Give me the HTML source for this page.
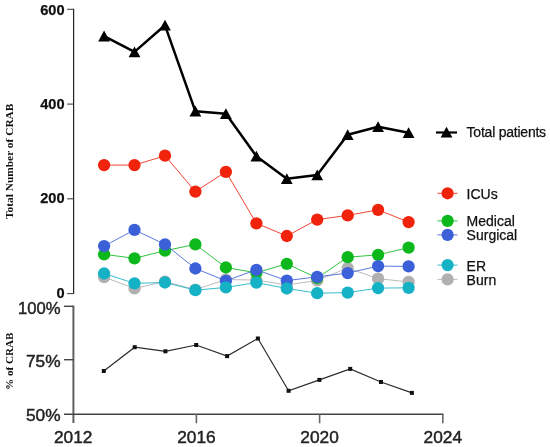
<!DOCTYPE html>
<html><head><meta charset="utf-8"><title>CRAB chart</title>
<style>html,body{margin:0;padding:0;background:#fff}svg{display:block;filter:blur(0.4px)}</style></head>
<body>
<svg width="550" height="447" viewBox="0 0 550 447">
<rect width="550" height="447" fill="#fff"/>
<g stroke="#222" stroke-width="1.2" fill="none">
<path d="M73.6,8.8V294.0"/>
<path d="M67.2,9.3H73.6" stroke="#444" stroke-width="1.1"/>
<path d="M67.2,104.1H73.6" stroke="#444" stroke-width="1.1"/>
<path d="M67.2,198.8H73.6" stroke="#444" stroke-width="1.1"/>
<path d="M67.2,293.6H73.6" stroke="#444" stroke-width="1.1"/>
</g>
<g font-family="'Liberation Sans', Arial, sans-serif" font-weight="bold" font-size="14.6" text-anchor="end" fill="#111" stroke="#111" stroke-width="0.25">
<text x="64.6" y="14.5">600</text>
<text x="64.6" y="108.5">400</text>
<text x="64.6" y="203.0">200</text>
<text x="64.6" y="298.4">0</text>
</g>
<g stroke="#444" stroke-width="1.4" fill="none">
<path d="M73.4,305.6V423" stroke="#606060" stroke-width="2"/>
<path d="M64,414.2H443.5"/>
<path d="M64,306.3H73.4"/><path d="M64,359.7H73.4"/>
<path d="M196.4,414.2V423.3" stroke="#666" stroke-width="1.6"/>
<path d="M319.6,414.2V423.3" stroke="#666" stroke-width="1.6"/>
<path d="M442.8,414.2V423.3" stroke="#666" stroke-width="1.6"/>
</g>
<g font-family="'Liberation Sans', Arial, sans-serif" font-size="17.3" fill="#222" stroke="#222" stroke-width="0.45">
<text x="60.6" y="313.6" text-anchor="end" textLength="42.6" lengthAdjust="spacingAndGlyphs">100%</text>
<text x="60.6" y="366.6" text-anchor="end">75%</text>
<text x="60.6" y="420.6" text-anchor="end">50%</text>
<text x="73.2" y="442.6" text-anchor="middle">2012</text>
<text x="196.4" y="442.6" text-anchor="middle">2016</text>
<text x="319.6" y="442.6" text-anchor="middle">2020</text>
<text x="442.8" y="442.6" text-anchor="middle">2024</text>
</g>
<g font-family="'Liberation Serif', serif" font-weight="bold" font-size="11.4" fill="#111" text-anchor="middle">
<text transform="translate(12.8,161.3) rotate(-90)" textLength="115.5" lengthAdjust="spacingAndGlyphs">Total Number of CRAB</text>
<text transform="translate(12.8,361.2) rotate(-90)" textLength="57.5" lengthAdjust="spacingAndGlyphs">% of CRAB</text>
</g>
<polyline points="104.1,277.1 134.5,288.4 165.0,281.6 195.4,289.6 225.9,279.6 256.4,280.0 286.8,285.0 317.2,280.4 347.7,268.0 378.1,278.7 408.6,281.9" fill="none" stroke="#b0b0b0" stroke-width="0.85"/>
<circle cx="104.1" cy="277.1" r="6.15" fill="#b0b0b0"/><circle cx="134.5" cy="288.4" r="6.15" fill="#b0b0b0"/><circle cx="165.0" cy="281.6" r="6.15" fill="#b0b0b0"/><circle cx="195.4" cy="289.6" r="6.15" fill="#b0b0b0"/><circle cx="225.9" cy="279.6" r="6.15" fill="#b0b0b0"/><circle cx="256.4" cy="280.0" r="6.15" fill="#b0b0b0"/><circle cx="286.8" cy="285.0" r="6.15" fill="#b0b0b0"/><circle cx="317.2" cy="280.4" r="6.15" fill="#b0b0b0"/><circle cx="347.7" cy="268.0" r="6.15" fill="#b0b0b0"/><circle cx="378.1" cy="278.7" r="6.15" fill="#b0b0b0"/><circle cx="408.6" cy="281.9" r="6.15" fill="#b0b0b0"/>
<polyline points="104.1,254.3 134.5,258.3 165.0,250.7 195.4,244.4 225.9,267.5 256.4,272.8 286.8,263.8 317.2,278.0 347.7,257.2 378.1,254.8 408.6,247.6" fill="none" stroke="#0cb81c" stroke-width="0.85"/>
<circle cx="104.1" cy="254.3" r="6.15" fill="#0cb81c"/><circle cx="134.5" cy="258.3" r="6.15" fill="#0cb81c"/><circle cx="165.0" cy="250.7" r="6.15" fill="#0cb81c"/><circle cx="195.4" cy="244.4" r="6.15" fill="#0cb81c"/><circle cx="225.9" cy="267.5" r="6.15" fill="#0cb81c"/><circle cx="256.4" cy="272.8" r="6.15" fill="#0cb81c"/><circle cx="286.8" cy="263.8" r="6.15" fill="#0cb81c"/><circle cx="317.2" cy="278.0" r="6.15" fill="#0cb81c"/><circle cx="347.7" cy="257.2" r="6.15" fill="#0cb81c"/><circle cx="378.1" cy="254.8" r="6.15" fill="#0cb81c"/><circle cx="408.6" cy="247.6" r="6.15" fill="#0cb81c"/>
<polyline points="104.1,165.1 134.5,165.1 165.0,155.7 195.4,191.6 225.9,171.8 256.4,223.3 286.8,236.0 317.2,219.6 347.7,215.4 378.1,209.8 408.6,222.1" fill="none" stroke="#f0240c" stroke-width="0.85"/>
<circle cx="104.1" cy="165.1" r="6.15" fill="#f0240c"/><circle cx="134.5" cy="165.1" r="6.15" fill="#f0240c"/><circle cx="165.0" cy="155.7" r="6.15" fill="#f0240c"/><circle cx="195.4" cy="191.6" r="6.15" fill="#f0240c"/><circle cx="225.9" cy="171.8" r="6.15" fill="#f0240c"/><circle cx="256.4" cy="223.3" r="6.15" fill="#f0240c"/><circle cx="286.8" cy="236.0" r="6.15" fill="#f0240c"/><circle cx="317.2" cy="219.6" r="6.15" fill="#f0240c"/><circle cx="347.7" cy="215.4" r="6.15" fill="#f0240c"/><circle cx="378.1" cy="209.8" r="6.15" fill="#f0240c"/><circle cx="408.6" cy="222.1" r="6.15" fill="#f0240c"/>
<polyline points="104.1,246.1 134.5,229.9 165.0,244.4 195.4,268.5 225.9,280.8 256.4,269.8 286.8,280.6 317.2,276.8 347.7,273.1 378.1,266.1 408.6,266.4" fill="none" stroke="#3c60d8" stroke-width="0.85"/>
<circle cx="104.1" cy="246.1" r="6.15" fill="#3c60d8"/><circle cx="134.5" cy="229.9" r="6.15" fill="#3c60d8"/><circle cx="165.0" cy="244.4" r="6.15" fill="#3c60d8"/><circle cx="195.4" cy="268.5" r="6.15" fill="#3c60d8"/><circle cx="225.9" cy="280.8" r="6.15" fill="#3c60d8"/><circle cx="256.4" cy="269.8" r="6.15" fill="#3c60d8"/><circle cx="286.8" cy="280.6" r="6.15" fill="#3c60d8"/><circle cx="317.2" cy="276.8" r="6.15" fill="#3c60d8"/><circle cx="347.7" cy="273.1" r="6.15" fill="#3c60d8"/><circle cx="378.1" cy="266.1" r="6.15" fill="#3c60d8"/><circle cx="408.6" cy="266.4" r="6.15" fill="#3c60d8"/>
<polyline points="104.1,273.5 134.5,283.3 165.0,282.5 195.4,290.2 225.9,287.4 256.4,282.6 286.8,288.5 317.2,293.2 347.7,292.6 378.1,288.1 408.6,287.8" fill="none" stroke="#14b2c4" stroke-width="0.85"/>
<circle cx="104.1" cy="273.5" r="6.15" fill="#14b2c4"/><circle cx="134.5" cy="283.3" r="6.15" fill="#14b2c4"/><circle cx="165.0" cy="282.5" r="6.15" fill="#14b2c4"/><circle cx="195.4" cy="290.2" r="6.15" fill="#14b2c4"/><circle cx="225.9" cy="287.4" r="6.15" fill="#14b2c4"/><circle cx="256.4" cy="282.6" r="6.15" fill="#14b2c4"/><circle cx="286.8" cy="288.5" r="6.15" fill="#14b2c4"/><circle cx="317.2" cy="293.2" r="6.15" fill="#14b2c4"/><circle cx="347.7" cy="292.6" r="6.15" fill="#14b2c4"/><circle cx="378.1" cy="288.1" r="6.15" fill="#14b2c4"/><circle cx="408.6" cy="287.8" r="6.15" fill="#14b2c4"/>
<polyline points="104.1,36.1 134.5,51.9 165.0,25.3 195.4,111.3 225.9,113.7 256.4,156.2 286.8,178.7 317.2,174.9 347.7,134.7 378.1,126.8 408.6,132.8" fill="none" stroke="#000" stroke-width="2.5" stroke-linejoin="round"/>
<polygon points="104.1,30.6 110.0,41.4 98.2,41.4" fill="#000"/>
<polygon points="134.5,46.4 140.4,57.2 128.6,57.2" fill="#000"/>
<polygon points="165.0,19.8 170.9,30.6 159.1,30.6" fill="#000"/>
<polygon points="195.4,105.8 201.3,116.6 189.5,116.6" fill="#000"/>
<polygon points="225.9,108.2 231.8,119.0 220.0,119.0" fill="#000"/>
<polygon points="256.4,150.7 262.2,161.5 250.5,161.5" fill="#000"/>
<polygon points="286.8,173.2 292.7,184.0 280.9,184.0" fill="#000"/>
<polygon points="317.2,169.4 323.1,180.2 311.4,180.2" fill="#000"/>
<polygon points="347.7,129.2 353.6,140.0 341.8,140.0" fill="#000"/>
<polygon points="378.1,121.3 384.0,132.1 372.2,132.1" fill="#000"/>
<polygon points="408.6,127.3 414.5,138.1 402.7,138.1" fill="#000"/>
<polyline points="103.8,371.0 134.7,347.2 165.4,351.3 196.2,345.0 227.1,356.1 257.9,338.5 288.6,390.8 319.4,379.9 350.2,368.9 381.0,382.0 411.9,392.9" fill="none" stroke="#2a2a2a" stroke-width="1.15"/>
<rect x="101.8" y="369.0" width="4" height="4" fill="#111"/>
<rect x="132.7" y="345.2" width="4" height="4" fill="#111"/>
<rect x="163.4" y="349.3" width="4" height="4" fill="#111"/>
<rect x="194.2" y="343.0" width="4" height="4" fill="#111"/>
<rect x="225.1" y="354.1" width="4" height="4" fill="#111"/>
<rect x="255.9" y="336.5" width="4" height="4" fill="#111"/>
<rect x="286.6" y="388.8" width="4" height="4" fill="#111"/>
<rect x="317.4" y="377.9" width="4" height="4" fill="#111"/>
<rect x="348.2" y="366.9" width="4" height="4" fill="#111"/>
<rect x="379.0" y="380.0" width="4" height="4" fill="#111"/>
<rect x="409.9" y="390.9" width="4" height="4" fill="#111"/>
<g font-family="'Liberation Sans', Arial, sans-serif" font-size="14" fill="#111">
<path d="M436,132.5H457" stroke="#000" stroke-width="2.2"/>
<polygon points="446.5,126.8 452.4,137.6 440.6,137.6" fill="#000"/>
<text x="466.6" y="136.8" stroke="#111" stroke-width="0.25" textLength="79.5" lengthAdjust="spacing">Total patients</text>
<path d="M437.5,193.3H457.5" stroke="#f0240c" stroke-width="0.85"/>
<circle cx="447.6" cy="193.3" r="6.1" fill="#f0240c"/>
<text x="466.6" y="198.7" stroke="#111" stroke-width="0.25">ICUs</text>
<path d="M437.5,220.9H457.5" stroke="#0cb81c" stroke-width="0.85"/>
<circle cx="447.6" cy="220.9" r="6.1" fill="#0cb81c"/>
<text x="466.6" y="226.3" stroke="#111" stroke-width="0.25">Medical</text>
<path d="M437.5,234.9H457.5" stroke="#3c60d8" stroke-width="0.85"/>
<circle cx="447.6" cy="234.9" r="6.1" fill="#3c60d8"/>
<text x="466.6" y="240.3" stroke="#111" stroke-width="0.25">Surgical</text>
<path d="M437.5,265.1H457.5" stroke="#14b2c4" stroke-width="0.85"/>
<circle cx="447.6" cy="265.1" r="6.1" fill="#14b2c4"/>
<text x="466.6" y="270.5" stroke="#111" stroke-width="0.25">ER</text>
<path d="M437.5,279.4H457.5" stroke="#b0b0b0" stroke-width="0.85"/>
<circle cx="447.6" cy="279.4" r="6.1" fill="#b0b0b0"/>
<text x="466.6" y="284.8" stroke="#111" stroke-width="0.25">Burn</text>
</g>
</svg>
</body></html>
